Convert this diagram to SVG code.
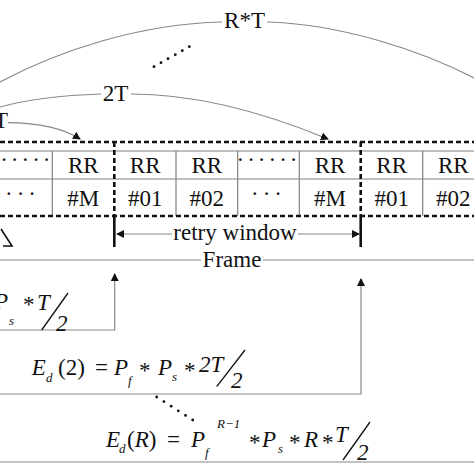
<svg xmlns="http://www.w3.org/2000/svg" width="474" height="474" viewBox="0 0 474 474">
<defs>
<style>
text{font-family:"Liberation Serif","Times New Roman",serif;font-size:23px;fill:#111}
.c{text-anchor:middle}
.i{font-style:italic}
.sub{font-size:13px;font-style:italic}
.thin{stroke:#888;stroke-width:1.2;fill:none}
.grid{stroke:#808080;stroke-width:1.2;fill:none}
.dash{stroke:#111;stroke-width:2.6;stroke-dasharray:5 3;fill:none}
.bar{stroke:#111;stroke-width:2.6;fill:none}
.dot{fill:#111}
</style>
<marker id="ah" markerWidth="8" markerHeight="8" refX="7" refY="4" orient="auto" markerUnits="userSpaceOnUse">
<path d="M0,0 L8,4 L0,8 Z" fill="#111"/>
</marker>
</defs>
<rect width="474" height="474" fill="#fff"/>

<g id="frame-table">
<line class="grid" x1="0" y1="151" x2="474" y2="151"/>
<line class="grid" x1="0" y1="179" x2="474" y2="179"/>
<line class="grid" x1="52.3" y1="151" x2="52.3" y2="216"/>
<line class="grid" x1="176" y1="151" x2="176" y2="216"/>
<line class="grid" x1="237.7" y1="151" x2="237.7" y2="216"/>
<line class="grid" x1="299.3" y1="151" x2="299.3" y2="216"/>
<line class="grid" x1="422.7" y1="151" x2="422.7" y2="216"/>
<line class="dash" x1="0" y1="142" x2="474" y2="142"/>
<line class="dash" x1="0" y1="216" x2="474" y2="216"/>
<line class="dash" x1="114.3" y1="142" x2="114.3" y2="216"/>
<line class="dash" x1="360.7" y1="142" x2="360.7" y2="216"/>
<line class="bar" x1="114.3" y1="216" x2="114.3" y2="247"/>
<line class="bar" x1="360.7" y1="216" x2="360.7" y2="247"/>
<text class="c" x="21.5" y="167" letter-spacing="3">······</text>
<text class="c" x="83.3" y="173">RR</text>
<text class="c" x="145.2" y="173">RR</text>
<text class="c" x="206.8" y="173">RR</text>
<text class="c" x="268.5" y="167" letter-spacing="3">······</text>
<text class="c" x="330" y="173">RR</text>
<text class="c" x="391.7" y="173">RR</text>
<text class="c" x="453.3" y="173">RR</text>
<text class="c" x="22.5" y="201" letter-spacing="4">···</text>
<text class="c" x="83.3" y="206">#M</text>
<text class="c" x="145.2" y="206">#01</text>
<text class="c" x="206.8" y="206">#02</text>
<text class="c" x="268.5" y="201" letter-spacing="4">···</text>
<text class="c" x="330" y="206">#M</text>
<text class="c" x="391.7" y="206">#01</text>
<text class="c" x="453.3" y="206">#02</text>
</g>

<g id="retry-window">
<line class="thin" x1="172" y1="234" x2="117" y2="234" marker-end="url(#ah)"/>
<line class="thin" x1="298" y1="234" x2="359" y2="234" marker-end="url(#ah)"/>
<text class="c" x="235" y="240">retry window</text>
</g>

<g id="frame-label">
<line class="thin" x1="0" y1="260" x2="201" y2="260"/>
<line class="thin" x1="263" y1="260" x2="474" y2="260"/>
<text class="c" x="232" y="267">Frame</text>
</g>

<g id="partial-arrow">
<path d="M1,229 L12,246 L3,246" stroke="#111" stroke-width="1.6" fill="none"/>
</g>

<g id="connectors">
<path class="thin" d="M8,122.7 C40,123 64,129 80,139" marker-end="url(#ah)"/>
<path class="thin" d="M0,107 Q40,96 101,94"/>
<path class="thin" d="M131,94 C200,94 270,115 328,139" marker-end="url(#ah)"/>
<path class="thin" d="M0,82 C60,50 140,24 222,22"/>
<path class="thin" d="M267,22 C340,24 420,50 474,78"/>
<path class="thin" d="M0,330 L114.7,330 L114.7,274" marker-end="url(#ah)"/>
<path class="thin" d="M0,394 L361,394 L361,279" marker-end="url(#ah)"/>
<line class="thin" x1="0" y1="462" x2="474" y2="462"/>
</g>

<g id="labels-T">
<text x="-6" y="128">T</text>
<text class="c" x="115.5" y="101">2T</text>
<text class="c" x="244.5" y="28">R*T</text>
</g>

<g id="dots">
<circle class="dot" cx="154" cy="66.7" r="1.4"/>
<circle class="dot" cx="161" cy="62.7" r="1.4"/>
<circle class="dot" cx="168" cy="58.7" r="1.4"/>
<circle class="dot" cx="175.3" cy="54.7" r="1.4"/>
<circle class="dot" cx="182.3" cy="50.7" r="1.4"/>
<circle class="dot" cx="189.3" cy="46.7" r="1.4"/>
<circle class="dot" cx="156.7" cy="397" r="1.4"/>
<circle class="dot" cx="163.9" cy="401.6" r="1.4"/>
<circle class="dot" cx="171.1" cy="406.2" r="1.4"/>
<circle class="dot" cx="178.3" cy="410.8" r="1.4"/>
<circle class="dot" cx="185.5" cy="415.4" r="1.4"/>
<circle class="dot" cx="192.7" cy="420" r="1.4"/>
</g>

<g id="eq1">
<text class="i" x="-6" y="309">P</text>
<text class="sub" x="9" y="325">s</text>
<text x="23" y="312">*</text>
<text class="i" x="37" y="310">T</text>
<line x1="41.7" y1="330" x2="68" y2="293" stroke="#111" stroke-width="1.3"/>
<text class="i" x="56" y="331">2</text>
</g>

<g id="eq2">
<text class="i" x="31.7" y="375">E</text>
<text class="sub" x="46" y="382">d</text>
<text x="58" y="375">(2)</text>
<text x="95" y="375">=</text>
<text class="i" x="114" y="375">P</text>
<text class="sub" x="128" y="385">f</text>
<text x="139" y="378">*</text>
<text class="i" x="158" y="375">P</text>
<text class="sub" x="172" y="381">s</text>
<text x="184" y="378">*</text>
<text class="i" x="199" y="372">2T</text>
<line x1="216.7" y1="386.7" x2="245" y2="350" stroke="#111" stroke-width="1.3"/>
<text class="i" x="231" y="388">2</text>
</g>

<g id="eqR">
<text class="i" x="106" y="447">E</text>
<text class="sub" x="119" y="453">d</text>
<text x="127" y="447">(<tspan class="i">R</tspan>)</text>
<text x="167" y="447">=</text>
<text class="i" x="191" y="447">P</text>
<text class="sub" x="205" y="457">f</text>
<text class="sub" x="217" y="428">R−1</text>
<text x="249" y="450">*</text>
<text class="i" x="262" y="447">P</text>
<text class="sub" x="278" y="453">s</text>
<text x="289" y="450">*</text>
<text class="i" x="304" y="447">R</text>
<text x="322" y="450">*</text>
<text class="i" x="335" y="442">T</text>
<line x1="343" y1="460" x2="370" y2="422" stroke="#111" stroke-width="1.3"/>
<text class="i" x="357" y="460">2</text>
</g>
</svg>
